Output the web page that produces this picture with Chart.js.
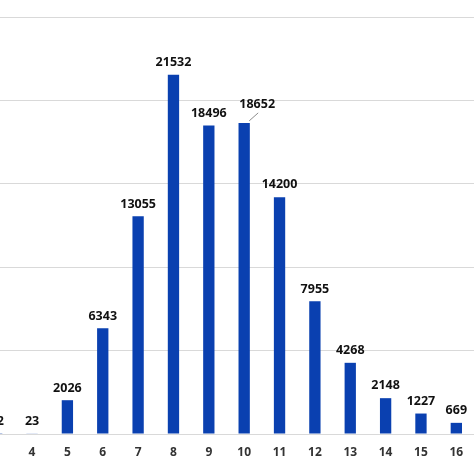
<!DOCTYPE html>
<html>
<head>
<meta charset="utf-8">
<script src="https://cdn.jsdelivr.net/npm/chart.js@4/dist/chart.umd.min.js"></script>
<style>
  html, body { margin: 0; padding: 0; background: #fff; overflow: hidden; }
  #wrap { position: absolute; left: -21px; top: 0; width: 495px; height: 474px; }
</style>
</head>
<body>
<div id="wrap"><canvas id="barChart"></canvas></div>
<script>
const categories = ["3", "4", "5", "6", "7", "8", "9", "10", "11", "12", "13", "14", "15", "16"];
const counts = [12, 23, 2026, 6343, 13055, 21532, 18496, 18652, 14200, 7955, 4268, 2148, 1227, 669];
const yTicks = [0, 5000, 10000, 15000, 20000, 25000];

// labels on top of the bars, the one for "10" is pulled aside with a leader line
const valueLabels = {
    id: 'valueLabels',
    afterDatasetsDraw(chart) {
        const ctx = chart.ctx;
        const meta = chart.getDatasetMeta(0);
        ctx.save();
        ctx.font = 'bold 12.5px "Open Sans"';
        ctx.fillStyle = '#111';
        ctx.textAlign = 'center';
        ctx.textBaseline = 'bottom';
        meta.data.forEach((bar, i) => {
            const txt = String(counts[i]);
            if (categories[i] === '10') {
                ctx.strokeStyle = '#8c8c8c';
                ctx.lineWidth = 1;
                ctx.beginPath();
                ctx.moveTo(bar.x + 5, bar.y - 2);
                ctx.lineTo(bar.x + 14, bar.y - 10);
                ctx.stroke();
                ctx.fillText(txt, bar.x + 13, bar.y - 12);
            } else {
                ctx.fillText(txt, bar.x, bar.y - 6);
            }
        });
        ctx.restore();
    }
};

new Chart(document.getElementById('barChart'), {
    type: 'bar',
    data: {
        labels: categories,
        datasets: [{
            data: counts,
            backgroundColor: '#0a40b0',
            barPercentage: 0.64,
            categoryPercentage: 0.5
        }]
    },
    options: {
        responsive: true,
        maintainAspectRatio: false,
        animation: false,
        layout: { padding: { top: 17, right: 0, left: 0, bottom: 0 } },
        plugins: {
            legend: { display: false },
            tooltip: { enabled: false }
        },
        scales: {
            x: {
                grid: { display: false },
                border: { color: '#d9d9d9', width: 1 },
                ticks: {
                    color: '#333',
                    font: { family: 'Open Sans', size: 12, weight: 'bold' },
                    padding: 3
                },
                afterFit(scale) { scale.height = 40; }
            },
            y: {
                min: 0,
                max: 25000,
                afterBuildTicks(scale) { scale.ticks = yTicks.map(v => ({ value: v })); },
                ticks: { display: false },
                grid: { color: '#d9d9d9', drawTicks: false },
                border: { display: false },
                afterFit(scale) { scale.width = 0; }
            }
        }
    },
    plugins: [valueLabels]
});
</script>
</body>
</html>
